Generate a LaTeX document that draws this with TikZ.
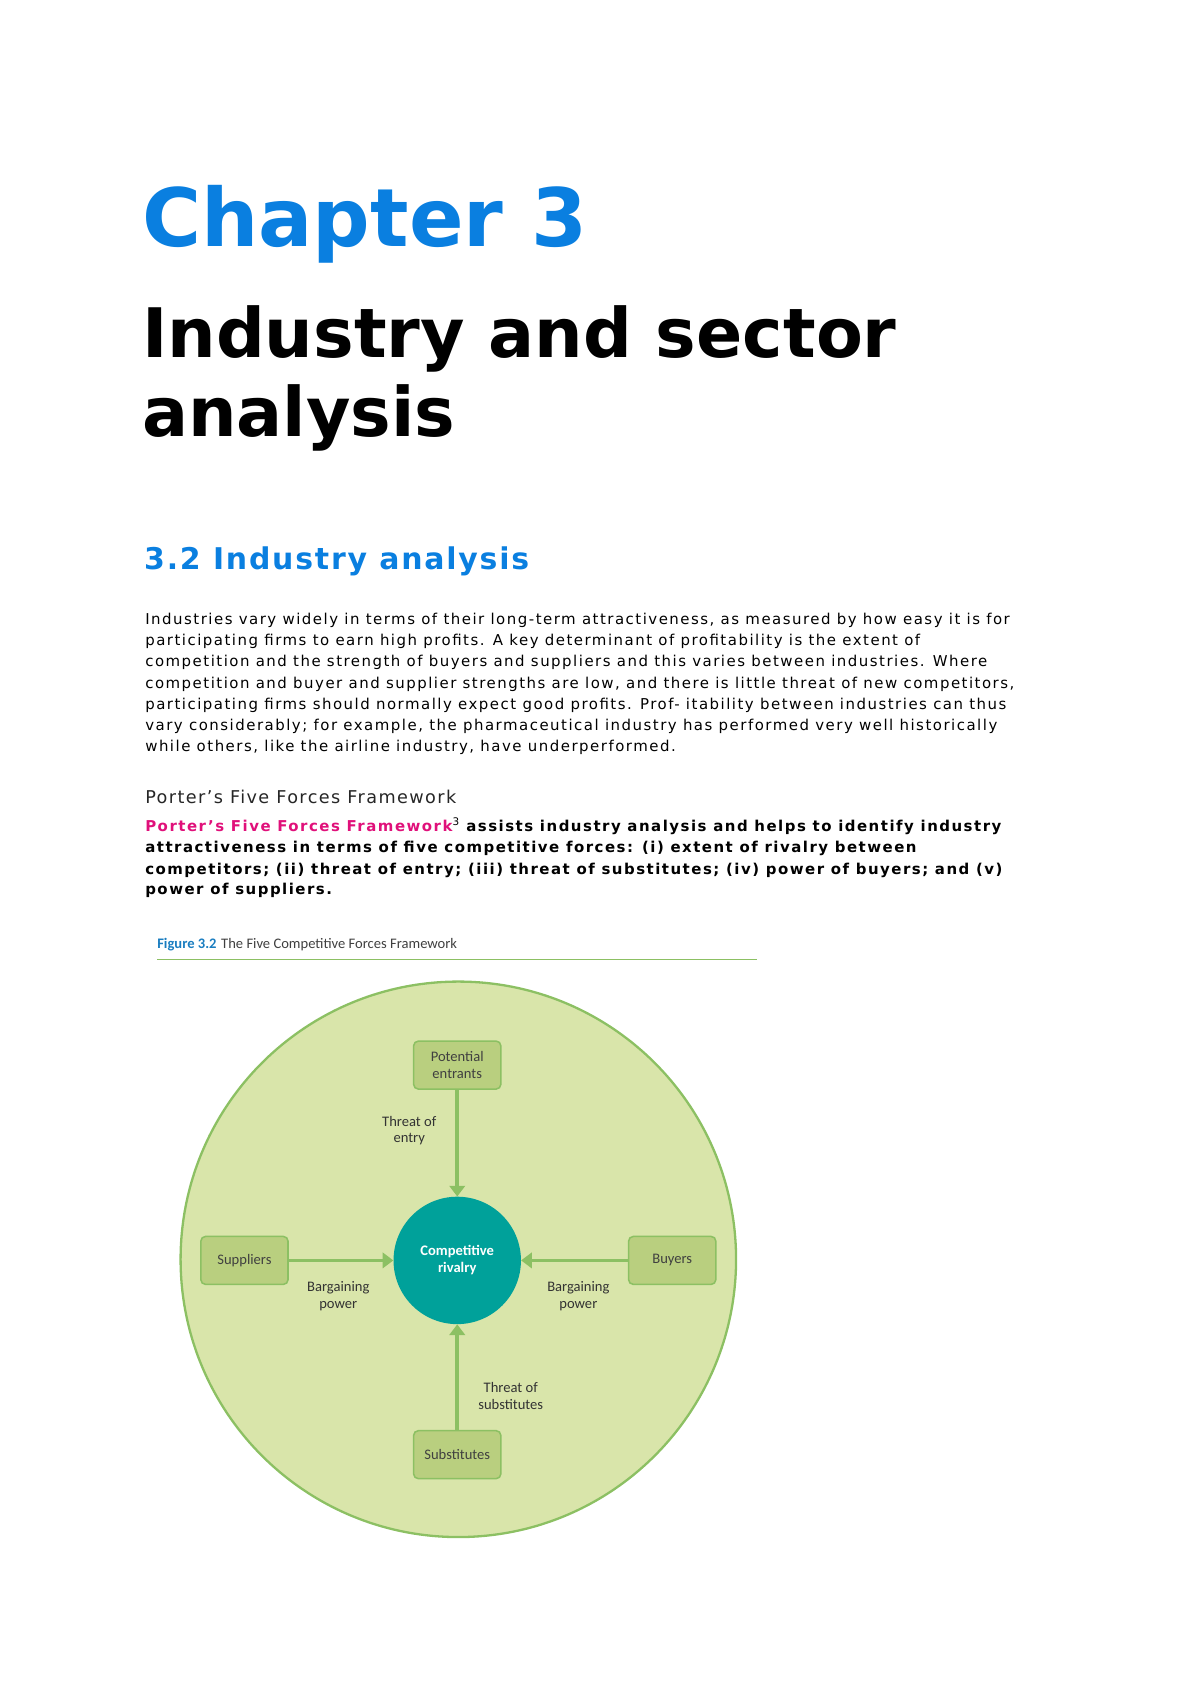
\documentclass[tikz,border=0pt]{standalone}
\usepackage{fontspec}
\setmainfont{DejaVu Sans}
\newfontfamily\figfont{Carlito}
\newfontfamily\spfont[LetterSpace=10]{DejaVu Sans}
\definecolor{ublue}{HTML}{0A7FE0}
\definecolor{upink}{HTML}{E0107A}
\definecolor{cfill}{HTML}{D9E5AA}
\definecolor{cline}{HTML}{8CC063}
\definecolor{bfill}{HTML}{B9CF7F}
\definecolor{teal}{HTML}{00A19A}
\definecolor{capblue}{HTML}{1A7DC0}
\usetikzlibrary{arrows.meta}
\begin{document}
\begin{tikzpicture}[x=0.05cm,y=-0.05cm,
  body/.style={anchor=base west,inner sep=0,font=\spfont\fontsize{19.5}{24}\selectfont},
  bbody/.style={anchor=base west,inner sep=0,font=\spfont\bfseries\fontsize{19.5}{24}\selectfont},
  box/.style={draw=cline,line width=2pt,fill=bfill,rounded corners=6pt,minimum width=80*1.42pt,minimum height=44*1.42pt,font=\figfont\fontsize{19}{22}\selectfont,align=center,text=black!75},
  lab/.style={font=\figfont\fontsize{19}{22}\selectfont,align=center,text=black!80,inner sep=0},
  arr/.style={draw=cline,line width=5pt,-{Triangle[length=14pt,width=20pt]}}]
\useasboundingbox (0,0) rectangle (1100,1556);
\node[anchor=base west,inner sep=0,text=ublue,font=\bfseries\fontsize{105}{108}\selectfont] (ch) at (130,226) {Chapter 3};
\node[anchor=base west,inner sep=0,font=\bfseries\fontsize{89}{92}\selectfont] (t1) at (130,328) {Industry and sector};
\node[anchor=base west,inner sep=0,font=\bfseries\fontsize{89}{92}\selectfont] (t2) at (130,400) {analysis};
\node[anchor=base west,inner sep=0,text=ublue,font=\addfontfeature{LetterSpace=6}\bfseries\fontsize{39}{42}\selectfont] (h) at (132,522) {3.2 Industry analysis};
\node[body] (l1) at (133,572) {Industries vary widely in terms of their long-term attractiveness, as measured by how easy it is for};
\node[body] (l2) at (133,591.5) {participating firms to earn high profits. A key determinant of profitability is the extent of};
\node[body] (l3) at (133,611) {competition and the strength of buyers and suppliers and this varies between industries. Where};
\node[body] (l4) at (133,630.5) {competition and buyer and supplier strengths are low, and there is little threat of new competitors,};
\node[body] (l5) at (133,650) {participating firms should normally expect good profits. Prof- itability between industries can thus};
\node[body] (l6) at (133,669.5) {vary considerably; for example, the pharmaceutical industry has performed very well historically};
\node[body] (l7) at (133,689) {while others, like the airline industry, have underperformed.};
\node[anchor=base west,inner sep=0,font=\addfontfeature{LetterSpace=8}\fontsize{23}{26}\selectfont,text=black!85] (pf) at (133,736) {Porter’s Five Forces Framework};
\node[bbody] (b1) at (133,762) {\textcolor{upink}{Porter’s Five Forces Framework}\textsuperscript{\mdseries 3} assists industry analysis and helps to identify industry};
\node[bbody] (b2) at (133,781) {attractiveness in terms of five competitive forces: (i) extent of rivalry between};
\node[bbody] (b3) at (133,801) {competitors; (ii) threat of entry; (iii) threat of substitutes; (iv) power of buyers; and (v)};
\node[bbody] (b4) at (133,820) {power of suppliers.};
% figure
\begin{scope}[yshift=6*0.05cm]
\node[anchor=base west,inner sep=0,font=\figfont\fontsize{19}{22}\selectfont] (cap) at (144,875) {\textcolor{capblue}{\bfseries Figure 3.2}\hspace{6pt}\textcolor{black!75}{The Five Competitive Forces Framework}};
\coordinate (ra) at (144,885); \coordinate (rb) at (694,885);
\draw[cline,line width=1.5pt] (ra) -- (rb);
\node[circle,draw=cline,fill=cfill,line width=3pt,minimum size=510*1.42pt] (big) at (420,1160) {};
\node[circle,fill=teal,minimum size=117*1.42pt,font=\figfont\bfseries\fontsize{19}{22}\selectfont,text=white,align=center] (cr) at (419,1161) {Competitive\\rivalry};
\node[box] (pe) at (419,982) {Potential\\entrants};
\node[box] (su) at (224,1161) {Suppliers};
\node[box] (bu) at (616,1161) {Buyers};
\node[box] (sb) at (419,1339) {Substitutes};
\draw[arr] (pe) -- (cr);
\draw[arr] (su) -- (cr);
\draw[arr] (bu) -- (cr);
\draw[arr] (sb) -- (cr);
\node[lab] (te) at (375,1042) {Threat of\\entry};
\node[lab] (bp1) at (310,1194) {Bargaining\\power};
\node[lab] (bp2) at (530,1194) {Bargaining\\power};
\node[lab] (ts) at (468,1285) {Threat of\\substitutes};
\end{scope}
\end{tikzpicture}
\end{document}
